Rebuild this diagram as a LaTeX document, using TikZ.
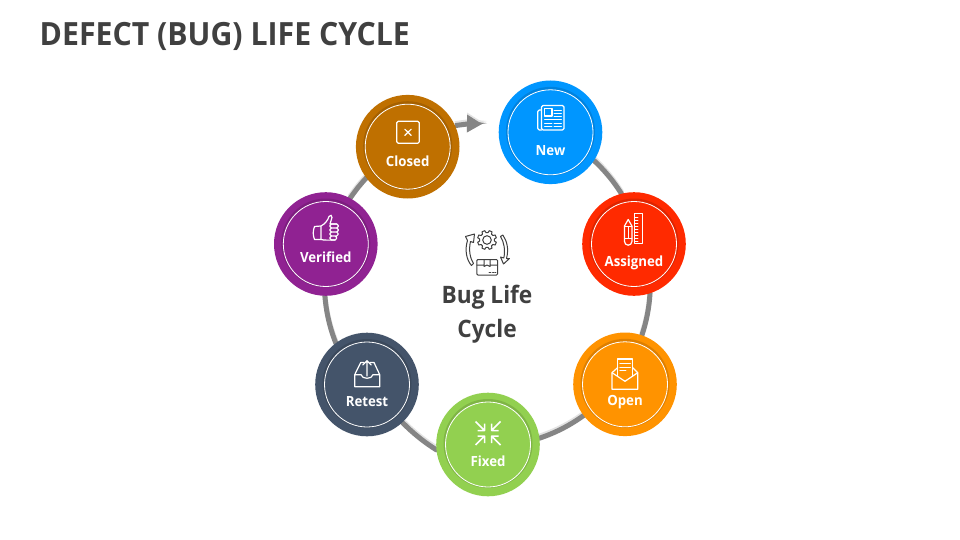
\documentclass[tikz,border=0pt]{standalone}
\usepackage{fontspec}
\setmainfont[FakeStretch=0.945]{Open Sans}
\usetikzlibrary{arrows.meta,backgrounds,calc}
\definecolor{cNew}{HTML}{0096FF}
\definecolor{cAss}{HTML}{FF2A00}
\definecolor{cOpen}{HTML}{FF9300}
\definecolor{cFix}{HTML}{92D050}
\definecolor{cRet}{HTML}{44546A}
\definecolor{cVer}{HTML}{902292}
\definecolor{cClo}{HTML}{BF7000}
\definecolor{ringgray}{HTML}{858585}
\definecolor{ink}{HTML}{404040}
\tikzset{
  disc/.style={circle,minimum size=103.6pt,inner sep=0pt,outer sep=0pt,fill=#1},
  discin/.style={circle,minimum size=85pt,inner sep=0pt,outer sep=0pt,fill=#1,draw=white,line width=0.8pt},
  halo/.style={circle,minimum size=89pt,inner sep=0pt,outer sep=0pt,fill=black,opacity=0.13},
  lab/.style={text=white,font=\fontsize{14}{16}\selectfont\bfseries,inner sep=0pt,anchor=base},
  ringline/.style={draw=ringgray,line width=5pt,line cap=round},
  ringshade/.style={draw=black!11,line width=5pt,line cap=round,transform canvas={yshift=2pt}},
  ic/.style={draw=white,line width=1.2pt,line join=round,line cap=round},
  icd/.style={draw=ink,line width=1pt,line join=round,line cap=round},
}
\newcommand{\bubble}[6]{%
  \node[disc=#4] (#1) at (#2,#3) {};
  \node[halo] (#1halo) at (#2,#3-1) {};
  \node[discin=#4] (#1in) at (#2,#3) {};
  \node[lab] (#1lab) at (#2,#3+#5) {#6};
}
\newcommand{\conn}[5]{%
  \draw[ringshade] (#1.#2) to[bend left=#5,looseness=0.87] (#3.#4);
  \draw[ringline] (#1.#2) to[bend left=#5,looseness=0.87] (#3.#4);
}
\begin{document}
\begin{tikzpicture}[x=1pt,y=-1pt]
\useasboundingbox (0,0) rectangle (960,540);
\begin{scope}[on background layer]
  \fill[white] (0,0) rectangle (960,540);
\end{scope}
\node[anchor=base west,text=ink,font=\fontsize{32}{36}\selectfont\bfseries,inner sep=0pt] (title) at (39.5,46) {DEFECT (BUG) LIFE CYCLE};

\bubble{new}{550.5}{132.3}{cNew}{23}{New}
\bubble{ass}{634}{244}{cAss}{22.7}{Assigned}
\bubble{open}{625}{384.3}{cOpen}{20.7}{Open}
\bubble{fix}{488}{444.5}{cFix}{21.5}{Fixed}
\bubble{ret}{367}{384.5}{cRet}{22.2}{Retest}
\bubble{ver}{325.8}{244}{cVer}{18.6}{Verified}
\bubble{clo}{407.7}{146.7}{cClo}{20}{Closed}

\coordinate (tip) at (482,124);
\begin{scope}[on background layer]
  \conn{new}{-33.9}{ass}{104}{7.5}
  \conn{ass}{-72.8}{open}{71.6}{7.5}
  \conn{open}{-143.4}{fix}{7}{8.7}
  \conn{fix}{186}{ret}{-47.7}{6.75}
  \conn{ret}{127.4}{ver}{-91.2}{8.6}
  \conn{ver}{62.6}{clo}{-143.8}{4.4}
  \draw[draw=black!11,line width=5pt,transform canvas={yshift=2pt},-{Triangle[length=15pt,width=18pt,line width=0pt]}] (clo.24.1) to[bend left=4.9] (tip);
  \draw[draw=ringgray,line width=5pt,-{Triangle[length=15pt,width=18pt,line width=0pt]}] (clo.24.1) to[bend left=4.9] (tip);
\end{scope}

% New icon
\draw[ic,rounded corners=1.5pt] (541.5,105.5) rectangle (564,130);
\draw[ic,rounded corners=1.5pt] (541.5,110) -- (537.8,110) -- (537.8,130) -- (541.5,130);
\draw[ic] (544.5,108.5) rectangle (552,116);
\draw[ic,line width=0.9pt] (554,110) -- (561.5,110) (554,113.3) -- (561.5,113.3) (554,116.5) -- (561.5,116.5)
  (544.5,119.8) -- (561.5,119.8) (544.5,123) -- (552,123) (554,123) -- (561.5,123) (544.5,126.3) -- (552,126.3) (554,126.3) -- (561.5,126.3);
% Assigned icon
\draw[ic] (624.5,226) -- (628.2,219.5) -- (631.9,226) -- (631.9,240.5) -- (631.9,241.5) arc[start angle=0,end angle=180,radius=3.7] -- cycle;
\draw[ic,line width=0.9pt] (624.5,226) -- (631.9,226) (628.2,227) -- (628.2,238) (624.5,238.6) -- (631.9,238.6);
\draw[ic] (634.5,213.5) rectangle (642.7,243.3);
\foreach \ty in {217,220,223,226,229,232,235,238,241}{\draw[ic,line width=0.8pt] (634.5,\ty) -- (638,\ty);}
% Open icon
\draw[ic] (617.7,376) -- (617.7,359) -- (632.7,359) -- (632.7,376);
\draw[ic,line width=0.9pt] (619.8,363.5) -- (630.5,363.5) (619.8,367) -- (630.5,367) (619.8,370.3) -- (626,370.3);
\draw[ic] (617.7,367.6) -- (612,372.7) -- (612,389.3) -- (637.7,389.3) -- (637.7,372.7) -- (632.7,367.6);
\draw[ic] (612,372.7) -- (625,381.3) -- (637.7,372.7);
% Fixed icon
\draw[ic,line width=1.5pt,line cap=butt,miter limit=4]
  (475.5,421.5) -- (484.5,430.5) (477.5,430.5) -- (484.5,430.5) -- (484.5,423.5)
  (500.5,421.5) -- (491.5,430.5) (498.5,430.5) -- (491.5,430.5) -- (491.5,423.5)
  (475.5,445) -- (484.5,436) (477.5,436) -- (484.5,436) -- (484.5,443)
  (500.5,445) -- (491.5,436) (498.5,436) -- (491.5,436) -- (491.5,443);
% Retest icon
\draw[ic] (354.7,374.7) -- (361,374.7) .. controls (362,379.5) and (372,379.5) .. (373,374.7) -- (379.7,374.7) -- (379.7,386.7) -- (354.7,386.7) -- cycle;
\draw[ic] (354.7,374.7) -- (360.7,362.5) -- (364,362.5) (379.7,374.7) -- (374,362.5) -- (370,362.5);
\draw[ic] (367,376) -- (367,360.7) (362.8,365) -- (367,360.7) -- (371.2,365);
% Verified icon
\draw[ic] (321,226) -- (314.5,226.5) .. controls (312.8,231) and (312.8,235) .. (314.5,239.5) -- (321,239.5) -- (321,226)
  .. controls (325,224) and (328,220) .. (329,216.5) .. controls (330,214.5) and (332.5,215) .. (332,217.5) -- (330,224) -- (336.5,224);
\draw[ic] (321,239.5) .. controls (324,240.3) and (328,240.2) .. (335,240);
\draw[ic,rounded corners=1.4pt] (330,224) rectangle (338.2,228) (330,228) rectangle (338.2,232) (330,232) rectangle (338,236) (330,236) rectangle (336.5,240);
% Closed icon
\draw[ic,rounded corners=1.5pt] (396.7,121.3) rectangle (419.3,143.3);
\draw[ic] (404.8,129.2) -- (411.2,135.4) (411.2,129.2) -- (404.8,135.4);
% Centre icon
\coordinate (gear) at (487,240);
\draw[icd] \foreach \a in {0,45,...,315}{ [shift={(gear)}] ({\a+22.5-15}:7.4) -- ({\a+22.5-9}:9.6) -- ({\a+22.5+9}:9.6) -- ({\a+22.5+15}:7.4) -- ({\a+22.5+30}:7.4) } ;
\draw[icd] (gear) circle[radius=4.3];
\draw[icd,rounded corners=1pt] (476.8,259.5) rectangle (497.5,275);
\draw[icd] (476.8,265) -- (484,265) (490,265) -- (497.5,265) (484,259.5) -- (484,266.5) -- (487,265) -- (490,266.5) -- (490,259.5);
\draw[icd,line width=0.8pt] (489,272) -- (491,272) (492.5,272) -- (494,272) (495,272) -- (496,272);
% left arrow
\draw[icd] (473.5,263.5) .. controls (470,258) and (468.5,250) .. (470.5,241.5) -- (473.5,242.5) -- (474.5,234) -- (465.5,236.5) -- (467.5,240.5) .. controls (464.5,250) and (466.5,260) .. (471.5,265.5) -- cycle;
% right arrow
\draw[icd] (500.5,236.5) .. controls (504,242) and (505.5,250) .. (503.8,258) -- (500.5,257) -- (503.5,264) -- (509.5,258.5) -- (506.5,258.5) .. controls (509,249) and (507,241) .. (502.8,235) -- cycle;
\node[text=ink,font=\fontsize{24}{33.5}\selectfont\bfseries,align=center,inner sep=0pt,anchor=base] (centre) at (487,337) {Bug Life\\Cycle};
\end{tikzpicture}
\end{document}
